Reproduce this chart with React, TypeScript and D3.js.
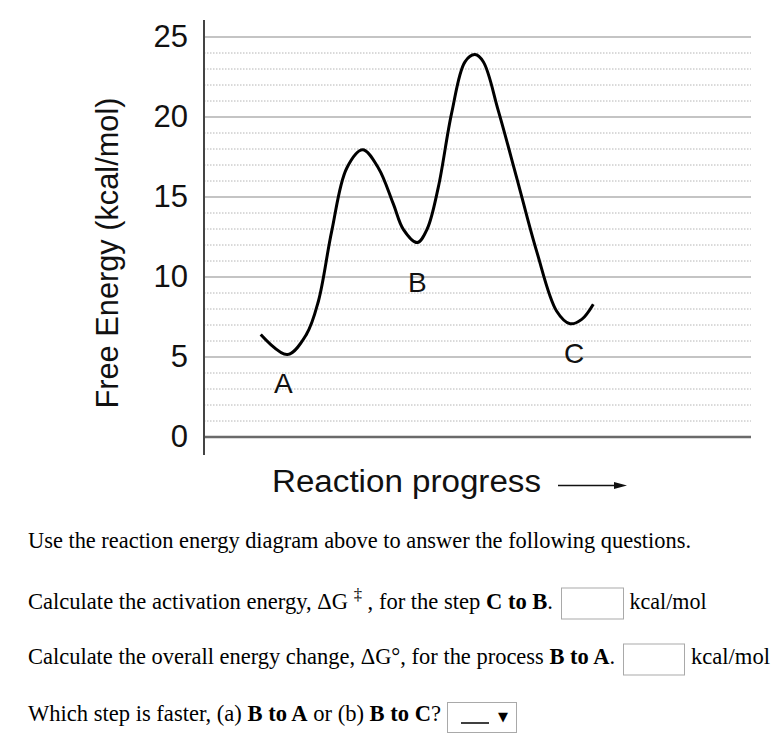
import * as d3 from 'd3'
import React, {useEffect, useRef} from 'react'

// reaction coordinate (0-100 across the plot) and free energy in kcal/mol
const progress = [10.37, 15.23, 18.7, 20.9, 23.35, 26.09, 29.01, 31.9, 34.61, 36.44, 39.0, 40.8, 42.83, 45.28, 47.71, 49.54, 51.06, 53.8, 57.17, 60.82, 64.48, 66.91, 69.05, 71.17]
const energy = [6.4, 5.15, 6.4, 8.47, 12.87, 16.8, 17.95, 16.8, 14.57, 12.98, 12.15, 13.0, 15.6, 20.26, 23.45, 23.9, 23.45, 20.4, 16.2, 11.6, 7.86, 7.08, 7.35, 8.3]

// energy wells and the curve point sitting at the bottom of each one
const wells = ['A', 'B', 'C']
const wellIndex = [1, 10, 21]

const energyTicks = [0, 5, 10, 15, 20, 25]
const minorTicks = d3.range(1, 26).filter((d) => d % 5 !== 0)

const W = 779, H = 747

function EnergyDiagram() {
    const ref = useRef<SVGSVGElement>(null)

    useEffect(() => {
        const svg = d3.select(ref.current)
        svg.selectAll('*').remove()

        const x = d3.scaleLinear().domain([0, 100]).range([204, 751])
        const y = d3.scaleLinear().domain([0, 25]).range([437, 37])
        const sans = '"Liberation Sans", Arial, Helvetica, sans-serif'
        const serif = '"Liberation Serif", "Times New Roman", serif'

        // dotted minor grid, solid major grid
        svg.append('g').selectAll('line')
            .data(minorTicks).enter().append('line')
            .attr('x1', x(0)).attr('x2', x(100))
            .attr('y1', (d) => y(d)).attr('y2', (d) => y(d))
            .style('stroke', '#b4b4b4').style('stroke-width', 1)
            .style('stroke-dasharray', '1.5,1.5')
        svg.append('g').selectAll('line')
            .data(energyTicks.filter((d) => d > 0)).enter().append('line')
            .attr('x1', x(0)).attr('x2', x(100))
            .attr('y1', (d) => y(d)).attr('y2', (d) => y(d))
            .style('stroke', '#c4c4c4').style('stroke-width', 2)
        svg.append('line')
            .attr('x1', x(0)).attr('x2', x(100))
            .attr('y1', y(0)).attr('y2', y(0))
            .style('stroke', '#6a6a6a').style('stroke-width', 2.5)

        // y axis
        const yAxis = svg.append('g')
            .attr('transform', `translate(${x(0)},0)`)
            .call(d3.axisLeft(y).tickValues(energyTicks).tickSize(0).tickPadding(16))
        yAxis.select('.domain').remove()
        yAxis.selectAll('text')
            .style('font-family', sans).style('font-size', '31px').style('fill', '#111')
        svg.append('line')
            .attr('x1', x(0)).attr('x2', x(0))
            .attr('y1', 20).attr('y2', 455)
            .style('stroke', '#444').style('stroke-width', 2)

        svg.append('text')
            .attr('transform', 'translate(118,253) rotate(-90)')
            .attr('text-anchor', 'middle')
            .attr('textLength', 311).attr('lengthAdjust', 'spacingAndGlyphs')
            .style('font-family', sans).style('font-size', '31px').style('fill', '#111')
            .text('Free Energy (kcal/mol)')

        svg.append('text')
            .attr('x', 272).attr('y', 492)
            .attr('textLength', 269).attr('lengthAdjust', 'spacingAndGlyphs')
            .style('font-family', sans).style('font-size', '31px').style('fill', '#111')
            .text('Reaction progress')

        // arrow after the axis title
        svg.append('line')
            .attr('x1', 558).attr('x2', 620).attr('y1', 485.5).attr('y2', 485.5)
            .style('stroke', '#111').style('stroke-width', 1.5)
        svg.append('path')
            .attr('d', 'M614,482 L627,485.5 L614,489 Z')
            .style('fill', '#111')

        // energy profile
        const line = d3.line<number>()
            .x((d, i) => x(progress[i]))
            .y((d) => y(d))
            .curve(d3.curveCatmullRom.alpha(0.5))
        svg.append('path')
            .datum(energy)
            .attr('d', line)
            .style('fill', 'none').style('stroke', '#000').style('stroke-width', 3)
            .style('stroke-linejoin', 'round')

        const labelOffset: Record<string, [number, number]> = {A: [-4, 38], B: [0, 49], C: [4, 39]}
        svg.append('g').selectAll('text')
            .data(wells).enter().append('text')
            .attr('x', (d, i) => x(progress[wellIndex[i]]) + labelOffset[d][0])
            .attr('y', (d, i) => y(energy[wellIndex[i]]) + labelOffset[d][1])
            .attr('text-anchor', 'middle')
            .style('font-family', sans).style('font-size', '28px').style('fill', '#111')
            .text((d) => d)

        // questions underneath
        const q = svg.append('g').style('font-family', serif).style('font-size', '23px').style('fill', '#000')
        q.append('text').attr('x', 28).attr('y', 548)
            .attr('textLength', 663).attr('lengthAdjust', 'spacingAndGlyphs')
            .text('Use the reaction energy diagram above to answer the following questions.')

        const q2 = q.append('text').attr('x', 28).attr('y', 609)
            .attr('textLength', 525).attr('lengthAdjust', 'spacingAndGlyphs')
        q2.append('tspan').text('Calculate the activation energy, \u0394G ')
        q2.append('tspan').attr('dy', -9).style('font-size', '17px').text('\u2021')
        q2.append('tspan').attr('dy', 9).text(' , for the step ')
        q2.append('tspan').style('font-weight', 'bold').text('C to B')
        q2.append('tspan').text('.')

        const q3 = q.append('text').attr('x', 28).attr('y', 664)
            .attr('textLength', 587).attr('lengthAdjust', 'spacingAndGlyphs')
        q3.append('tspan').text('Calculate the overall energy change, \u0394G\u00b0, for the process ')
        q3.append('tspan').style('font-weight', 'bold').text('B to A')
        q3.append('tspan').text('.')

        const q4 = q.append('text').attr('x', 28).attr('y', 721)
            .attr('textLength', 413).attr('lengthAdjust', 'spacingAndGlyphs')
        q4.append('tspan').text('Which step is faster, (a) ')
        q4.append('tspan').style('font-weight', 'bold').text('B to A')
        q4.append('tspan').text(' or (b) ')
        q4.append('tspan').style('font-weight', 'bold').text('B to C')
        q4.append('tspan').text('?')

        // answer boxes
        const boxes = [[561, 587.5, 62, 31], [623, 643.5, 61, 31], [447, 702, 69, 30]]
        q.selectAll('rect').data(boxes).enter().append('rect')
            .attr('x', (d) => d[0] + 0.5).attr('y', (d) => d[1] + 0.5)
            .attr('width', (d) => d[2]).attr('height', (d) => d[3])
            .style('fill', '#fff').style('stroke', '#a9a9a9').style('stroke-width', 1)

        q.append('text').attr('x', 629.5).attr('y', 609)
            .attr('textLength', 77).attr('lengthAdjust', 'spacingAndGlyphs').text('kcal/mol')
        q.append('text').attr('x', 691).attr('y', 664)
            .attr('textLength', 79).attr('lengthAdjust', 'spacingAndGlyphs').text('kcal/mol')

        q.append('line').attr('x1', 461).attr('x2', 489).attr('y1', 723).attr('y2', 723)
            .style('stroke', '#000').style('stroke-width', 1.5)
        q.append('text').attr('x', 503).attr('y', 721).attr('text-anchor', 'middle')
            .style('font-family', '"DejaVu Sans", sans-serif').style('font-size', '13px')
            .text('\u25bc')
    }, [])

    return <svg ref={ref} width={W} height={H}
                style={{position: 'absolute', left: 0, top: 0, background: '#fff'}} />
}

export default function App() {
    return <EnergyDiagram />
}
